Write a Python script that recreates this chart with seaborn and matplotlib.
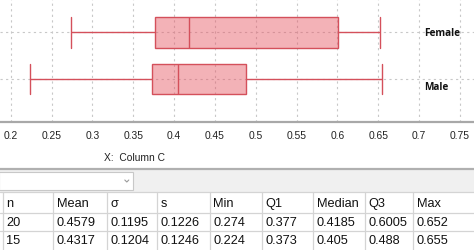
import matplotlib
matplotlib.use("Agg")
import matplotlib.pyplot as plt
import seaborn as sns
import pandas as pd
from matplotlib.patches import Rectangle
from matplotlib.lines import Line2D

# ---- data ----
groups = ["Female", "Male"]
n_vals = [20, 15]
means = [0.4579, 0.4317]
sigmas = [0.1195, 0.1204]
s_vals = [0.1226, 0.1246]
mins = [0.274, 0.224]
q1s = [0.377, 0.373]
medians = [0.4185, 0.405]
q3s = [0.6005, 0.488]
maxs = [0.652, 0.655]
tick_vals = [0.2, 0.25, 0.3, 0.35, 0.4, 0.45, 0.5, 0.55, 0.6, 0.65, 0.7, 0.75]
tick_labels = ["0.2", "0.25", "0.3", "0.35", "0.4", "0.45", "0.5", "0.55", "0.6", "0.65", "0.7", "0.75"]
headers = ["n", "Mean", "σ", "s", "Min", "Q1", "Median", "Q3", "Max"]
x_label = "X:  Column C"

# five-number summaries -> long table for seaborn (whiskers span min..max)
rows = []
for g, a, b, c, d, e in zip(groups, mins, q1s, medians, q3s, maxs):
    for v in (a, b, c, d, e):
        rows.append({"group": g, "value": v})
df = pd.DataFrame(rows)

sns.set_style("white")
plt.rcParams["font.family"] = ["Liberation Sans", "DejaVu Sans"]

W, H = 474, 251
fig = plt.figure(figsize=(W / 100, H / 100), dpi=100)
fig.patch.set_facecolor("white")

ax_h = 123
ax = fig.add_axes([0, 1 - ax_h / H, 1, ax_h / H])

edge = "#d4505b"
fill = (0.90, 0.33, 0.38, 0.45)
sns.boxplot(data=df, x="value", y="group", order=groups, orient="h",
            whis=(0, 100), width=0.66, linewidth=1.0, linecolor=edge,
            color="#f4aeb3", saturation=1, fliersize=0, capwidths=0.66, ax=ax)
for p in ax.patches:
    p.set_facecolor(fill)
    p.set_edgecolor(edge)
for ln in ax.lines:
    ln.set_color(edge)

ax.set_xlim(0.1869, 0.7671)
ax.set_ylim(1.921, -0.713)
ax.set_xticks(tick_vals, tick_labels)
ax.grid(True, ls=(0, (2, 3)), color="#c8c8c8", lw=0.8)
ax.set_axisbelow(True)
ax.tick_params(axis="x", length=0, pad=6, labelsize=7.4, labelcolor="#222222")
ax.tick_params(axis="y", length=0, labelleft=False)
ax.set_xlabel("")
ax.set_ylabel("")
for side in ("top", "left", "right"):
    ax.spines[side].set_visible(False)
ax.spines["bottom"].set_color("#a8a8a8")
ax.spines["bottom"].set_linewidth(1.6)

label_dy = [0.0, 0.167]
for i, (g, dy) in enumerate(zip(groups, label_dy)):
    ax.text(0.7055, i + dy, g, ha="left", va="center", fontsize=7.2,
            fontweight="bold", family=["Open Sans", "DejaVu Sans"], color="#111111")

fig.text(104 / W, 1 - 158 / H, x_label, ha="left", va="center",
         fontsize=7.4, color="#222222")

# ---- lower panel: dropdown + stats table ----
at = fig.add_axes([0, 0, 1, 1])
at.set_xlim(0, W)
at.set_ylim(H, 0)
at.axis("off")
at.patch.set_alpha(0)

at.add_line(Line2D([0, W], [170, 170], color="#b0b0b0", lw=1.6))
at.add_patch(Rectangle((0, 171), W, 22.3, facecolor="#f0f0f0", edgecolor="none"))
at.add_patch(Rectangle((-1, 173.3), 134, 17.7, facecolor="white", edgecolor="#c8c8c8", lw=0.8))
at.add_line(Line2D([124.8, 126.8, 128.8], [181, 183, 181], color="#9a9a9a", lw=0.8))

col_x = [2.7, 53.3, 106.7, 157.3, 210, 261.7, 313.3, 365, 413.3]
row_y = [193.3, 214.3, 231.7]
row_c = [203.8, 223.0, 240.8]
gl = "#d4d4d4"
for y in row_y:
    at.add_line(Line2D([0, W], [y, y], color=gl, lw=0.9))
for x in col_x:
    at.add_line(Line2D([x, x], [193.3, H], color=gl, lw=0.9))

table_cols = [n_vals, means, sigmas, s_vals, mins, q1s, medians, q3s, maxs]
for j, (x, h) in enumerate(zip(col_x, headers)):
    at.text(x + 3.5, row_c[0], h, ha="left", va="center", fontsize=9.2, color="#111111")
    for i in range(len(groups)):
        v = table_cols[j][i]
        s = str(v) if isinstance(v, int) else f"{v:g}"
        at.text(x + 3.5, row_c[i + 1], s, ha="left", va="center", fontsize=9.2, color="#111111")

fig.savefig("out.png", dpi=100)
